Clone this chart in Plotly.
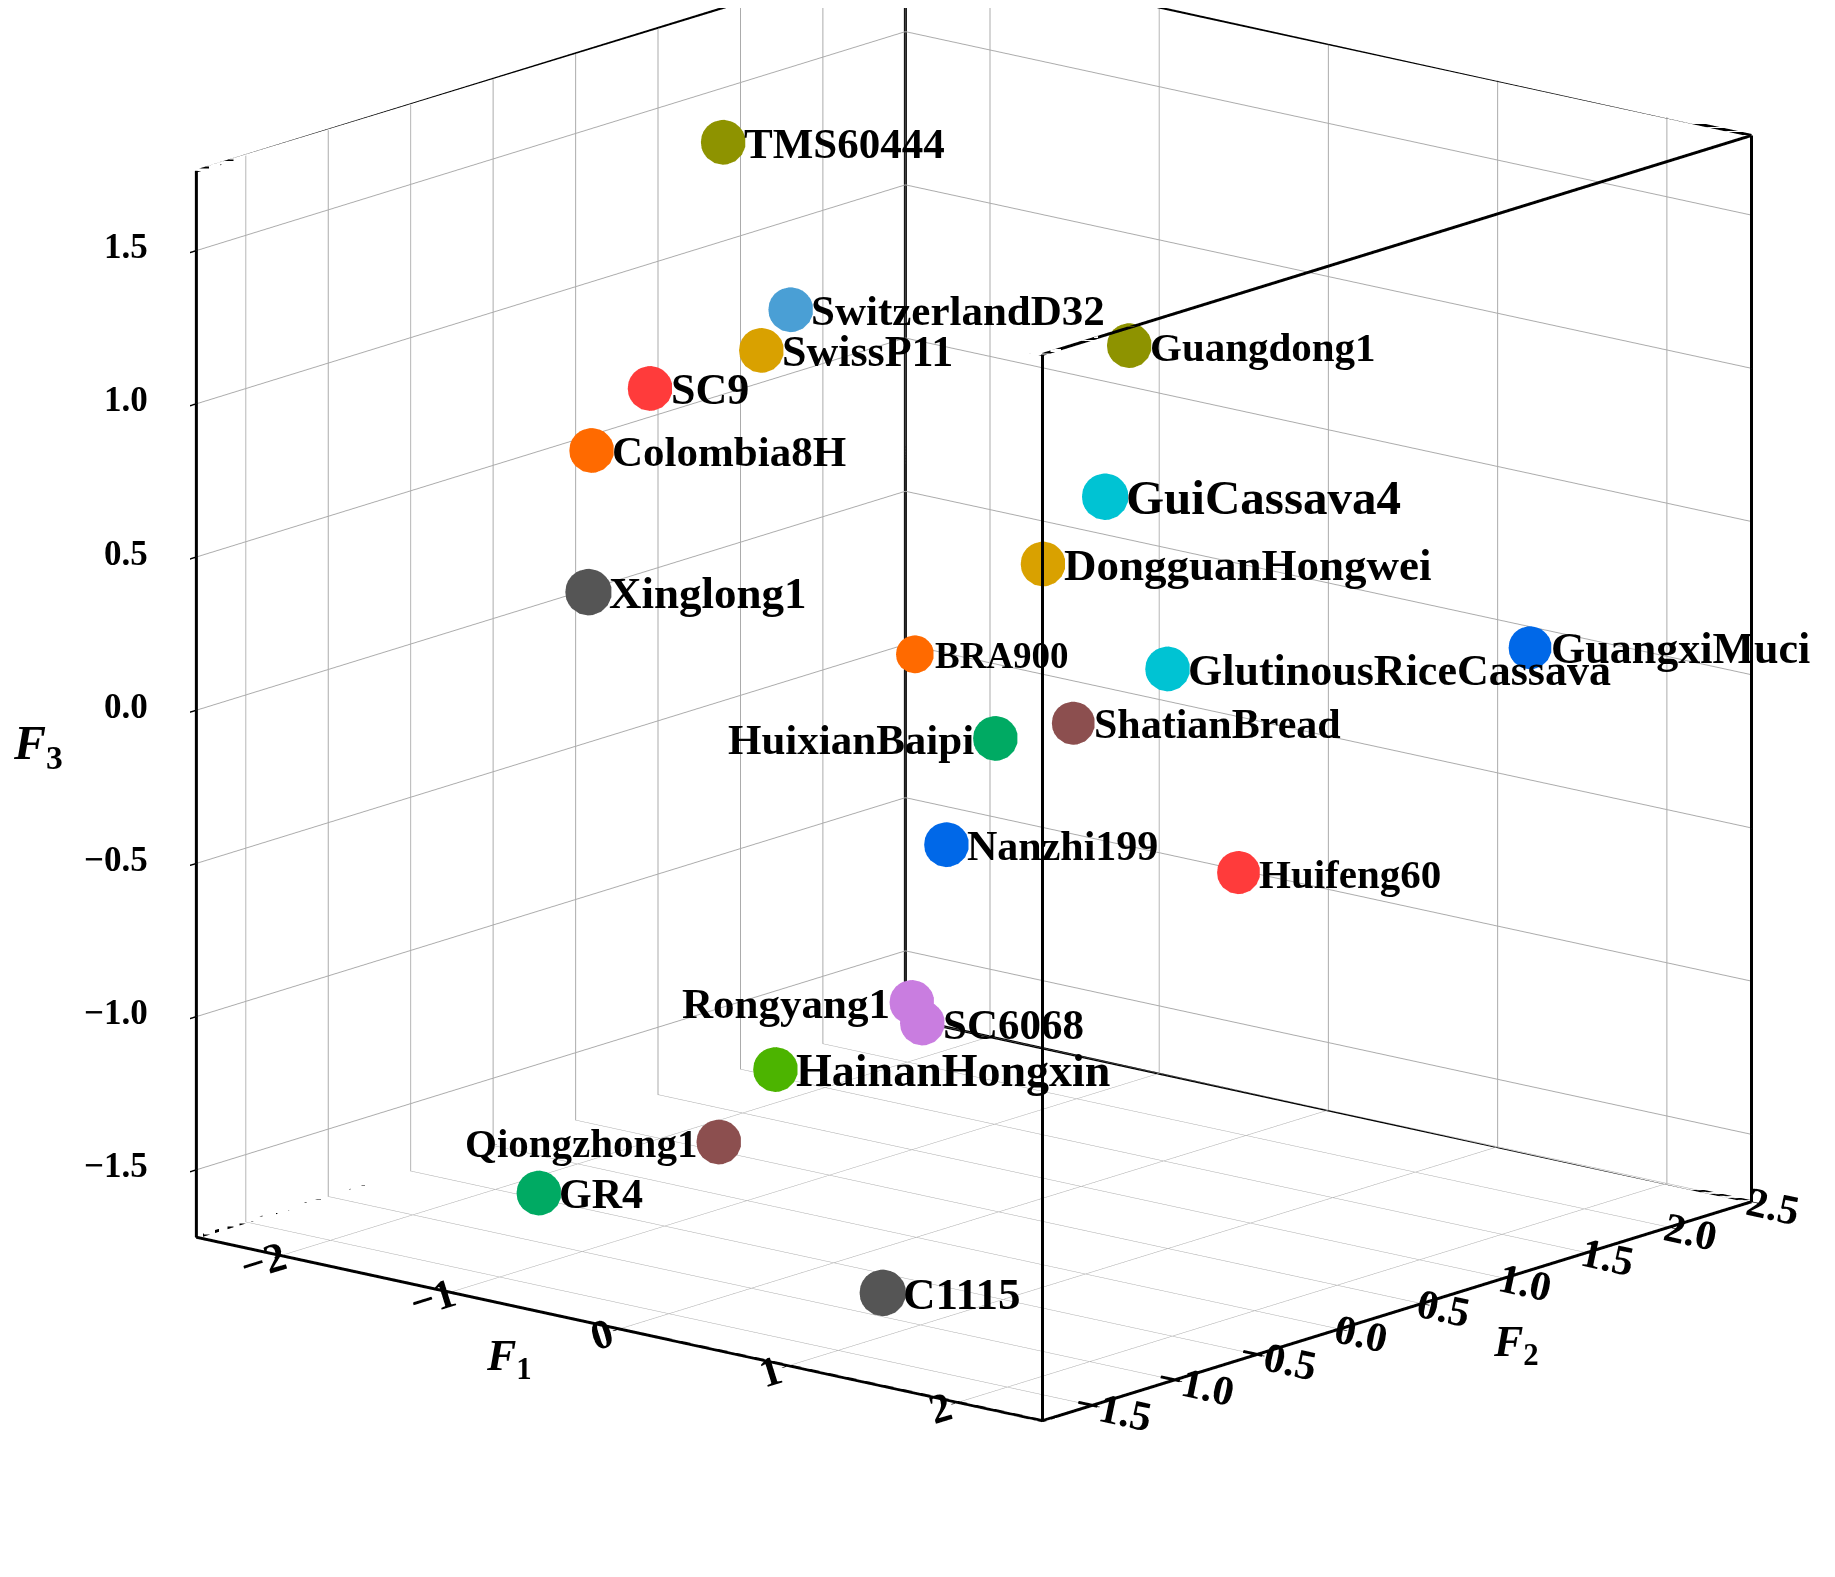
import plotly.graph_objects as go

# ---------------- data ----------------
names = ["TMS60444", "SwitzerlandD32", "SwissP11", "SC9", "Colombia8H", "Xinglong1",
         "Guangdong1", "GuiCassava4", "DongguanHongwei", "BRA900", "GlutinousRiceCassava",
         "GuangxiMuci", "HuixianBaipi", "ShatianBread", "Nanzhi199", "Huifeng60",
         "Rongyang1", "SC6068", "HainanHongxin", "Qiongzhong1", "GR4", "C1115"]
F1 = [-1.28, -0.92, -0.84, -1.04, -1.20, -0.79, -0.03, 1.24, 0.61, -1.16, 0.81,
      1.90, 0.27, 0.37, 0.02, 1.21, 0.02, 0.15, -0.25, -0.39, -0.82, 0.91]
F2 = [0.14, 0.18, -0.08, -0.55, -0.74, -1.18, 1.32, -0.13, 0.14, 1.18, 0.69,
      1.77, 0.20, 0.57, 0.16, 0.71, -0.05, -0.12, -0.60, -0.80, -1.45, -1.14]
F3 = [1.68, 1.17, 1.09, 1.02, 0.83, 0.49, 0.97, 0.87, 0.53, -0.15, 0.12,
      0.14, -0.09, -0.09, -0.46, -0.50, -0.94, -0.98, -1.10, -1.32, -1.43, -1.60]

x_ticks = [-2, -1, 0, 1, 2]
y_ticks = [-1.5, -1.0, -0.5, 0.0, 0.5, 1.0, 1.5, 2.0, 2.5]
z_ticks = [-1.5, -1.0, -0.5, 0.0, 0.5, 1.0, 1.5]
x_range = [-2.5, 2.5]
y_range = [-1.8, 2.5]
z_range = [-1.72, 1.76]

# ---------------- styles ----------------
colors = ["#8e9300", "#4a9fd5", "#d9a100", "#ff3b3b", "#ff6a00", "#555555",
          "#8e9300", "#00c3d3", "#d9a100", "#ff6a00", "#00c3d3",
          "#0068e8", "#00aa63", "#8c4f4f", "#0068e8", "#ff3b3b",
          "#c97de0", "#c97de0", "#4cb400", "#8c4f4f", "#00aa63", "#555555"]
left_labels = ("HuixianBaipi", "Rongyang1", "Qiongzhong1")
label_size = [43, 43, 44, 44, 43, 45, 41, 49, 45, 37, 44,
              44, 43, 42, 42, 41, 43, 43, 46, 41, 42, 45]
marker_size = [26, 26, 26, 26, 26, 27, 26, 27, 26, 22, 26,
               25, 26, 25, 26, 25, 26, 26, 26, 26, 26, 27]

FONT = "Liberation Serif"

# view set-up (orthographic)
dir_x, dir_y, dir_z = 0.6204, -0.7404, 0.2588   # unit vector towards the viewer
D = 2.0
A = 1.40
cx, cy, cz = -0.024, -0.067, -0.135


def fmt(v):
    s = f"{v:.1f}" if isinstance(v, float) else f"{v}"
    return s.replace("-", "\u2212")


fig = go.Figure()

# box frame built from the axis ranges
xs, ys, zs = [], [], []
X0, X1 = x_range
Y0, Y1 = y_range
Z0, Z1 = z_range
edges = [
    ((X0, Y0, Z0), (X1, Y0, Z0)), ((X0, Y1, Z0), (X1, Y1, Z0)),
    ((X0, Y0, Z1), (X1, Y0, Z1)), ((X0, Y1, Z1), (X1, Y1, Z1)),
    ((X0, Y0, Z0), (X0, Y1, Z0)), ((X1, Y0, Z0), (X1, Y1, Z0)),
    ((X0, Y0, Z1), (X0, Y1, Z1)), ((X1, Y0, Z1), (X1, Y1, Z1)),
    ((X0, Y0, Z0), (X0, Y0, Z1)), ((X1, Y0, Z0), (X1, Y0, Z1)),
    ((X0, Y1, Z0), (X0, Y1, Z1)), ((X1, Y1, Z0), (X1, Y1, Z1)),
]
for a, b in edges:
    xs += [a[0], b[0], None]
    ys += [a[1], b[1], None]
    zs += [a[2], b[2], None]
fig.add_trace(go.Scatter3d(x=xs, y=ys, z=zs, mode="lines",
                           line=dict(color="black", width=6),
                           hoverinfo="skip", showlegend=False))

annotations = []
for i, nm in enumerate(names):
    fig.add_trace(go.Scatter3d(
        x=[F1[i]], y=[F2[i]], z=[F3[i]],
        mode="markers",
        marker=dict(size=marker_size[i], color=colors[i], opacity=1,
                    line=dict(width=0)),
        showlegend=False, name=nm))
    left = nm in left_labels
    annotations.append(dict(
        x=F1[i], y=F2[i], z=F3[i],
        text=f"<b>{nm}</b>", showarrow=False,
        xanchor="right" if left else "left", yanchor="middle",
        xshift=-19 if left else 19, yshift=-2,
        font=dict(family=FONT, size=label_size[i], color="black")))

# F3 tick labels (upright, left of the vertical edge)
for t in z_ticks:
    annotations.append(dict(
        x=X0, y=Y0, z=t, text=f"<b>{fmt(t)}</b>", showarrow=False,
        xanchor="right", yanchor="middle", xshift=-46, yshift=4,
        font=dict(family=FONT, size=35, color="black")))

# axis titles
annotations.append(dict(x=0, y=Y0, z=Z0, text="<b><i>F</i><sub>1</sub></b>",
                        showarrow=False, xshift=-110, yshift=-30,
                        font=dict(family=FONT, size=44, color="black")))
annotations.append(dict(x=X1, y=0.25, z=Z0, text="<b><i>F</i><sub>2</sub></b>",
                        showarrow=False, xshift=135, yshift=-28,
                        font=dict(family=FONT, size=44, color="black")))
annotations.append(dict(x=X0, y=Y0, z=0, text="<b><i>F</i><sub>3</sub></b>",
                        showarrow=False, xshift=-158, yshift=-36,
                        font=dict(family=FONT, size=48, color="black")))


def axis(ticks, rng, labels=True):
    return dict(
        title=dict(text=""),
        range=rng, autorange=False,
        tickvals=ticks, ticktext=[f"<b>{fmt(t)}</b>" for t in ticks],
        showticklabels=labels,
        tickfont=dict(family=FONT, size=22.5, color="black"),
        showgrid=True, gridcolor="#ababab", gridwidth=2,
        showline=True, linecolor="black", linewidth=5,
        ticks="outside", ticklen=10, tickwidth=3, tickcolor="black",
        zeroline=False, showbackground=False, showspikes=False,
    )


fig.update_layout(
    width=1835, height=1577,
    paper_bgcolor="white",
    margin=dict(l=0, r=0, t=0, b=0),
    font=dict(family=FONT, color="black"),
    scene=dict(
        domain=dict(x=[0, 1], y=[0, 1]),
        xaxis=axis(x_ticks, x_range),
        yaxis=axis(y_ticks, y_range),
        zaxis=axis(z_ticks, z_range, labels=False),
        aspectmode="manual",
        aspectratio=dict(x=A, y=A, z=A),
        annotations=annotations,
        camera=dict(
            up=dict(x=0, y=0, z=1),
            center=dict(x=cx, y=cy, z=cz),
            eye=dict(x=cx + D * dir_x, y=cy + D * dir_y, z=cz + D * dir_z),
            projection=dict(type="orthographic"),
        ),
    ),
)

fig.write_html("out.html")
